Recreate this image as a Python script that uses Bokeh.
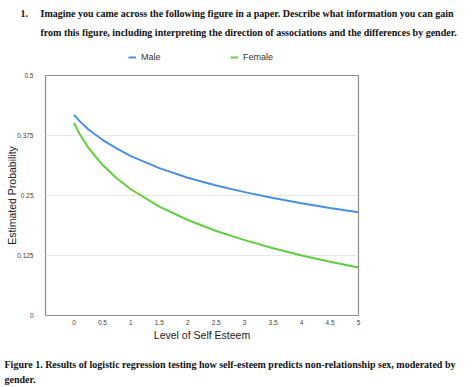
from bokeh.plotting import figure
from bokeh.layouts import column
from bokeh.models import FixedTicker, Legend, LegendItem, Range1d, Title
from bokeh.embed import file_html
from bokeh.resources import INLINE

# ---- data ----
self_esteem = [0, 0.1, 0.25, 0.5, 0.75, 1, 1.5, 2, 2.5, 3, 3.5, 4, 4.5, 5]
male_prob   = [0.418, 0.405, 0.388, 0.366, 0.348, 0.332, 0.307, 0.287, 0.271, 0.257, 0.245, 0.234, 0.224, 0.215]
female_prob = [0.401, 0.378, 0.350, 0.314, 0.286, 0.263, 0.227, 0.199, 0.176, 0.157, 0.140, 0.125, 0.112, 0.100]
x_ticks = [0, 0.5, 1, 1.5, 2, 2.5, 3, 3.5, 4, 4.5, 5]
y_ticks = [0, 0.125, 0.25, 0.375, 0.5]
series_names = ["Male", "Female"]
question_1 = "1.\u00a0\u00a0\u00a0\u00a0\u00a0Imagine you came across the following figure in a paper. Describe what information you can gain"
question_2 = "from this figure, including interpreting the direction of associations and the differences by gender."
caption_1 = "Figure 1. Results of logistic regression testing how self-esteem predicts non-relationship sex, moderated by"
caption_2 = "gender."
x_label = "Level of Self Esteem"
y_label = "Estimated Probability"

W = 474
HEAD_H, CHART_H, FOOT_H = 70, 274, 43
BL, BR = 45, 116
BLUE = "#4a90e2"
GREEN = "#5fcf3e"
SERIF = "Liberation Serif"
SANS = "Liberation Sans"
TXT_SIZE = "10px"


def title(txt, offset, standoff, valign="bottom", line_height=1.2):
    return Title(text=txt, align="left", offset=offset, standoff=standoff,
                 vertical_align=valign, text_font=SERIF, text_font_size=TXT_SIZE,
                 text_font_style="bold", text_color="#111111", text_line_height=line_height)


def text_strip(height, top_border):
    f = figure(width=W, height=height, output_backend="svg", toolbar_location=None,
               x_range=Range1d(-0.5, 5), y_range=Range1d(10, 11),
               x_axis_location=None, y_axis_location=None,
               min_border_left=BL, min_border_right=BR, min_border_top=top_border, min_border_bottom=0)
    f.grid.visible = False
    f.outline_line_color = None
    f.background_fill_color = "white"
    f.border_fill_color = "white"
    return f


# ---- header: question text (titles) + legend in its frame ----
head = text_strip(HEAD_H, 40)
head.add_layout(title(question_2, -5, 6), "above")
head.add_layout(title(question_1, -25, 5), "above")

# legend proxies: same series, hidden (legend draws them regardless)
leg_r1 = head.line(self_esteem, male_prob, line_color=BLUE, line_width=2, visible=False)
leg_r2 = head.line(self_esteem, female_prob, line_color=GREEN, line_width=2, visible=False)
legend = Legend(items=[LegendItem(label=series_names[0], renderers=[leg_r1]),
                       LegendItem(label=series_names[1], renderers=[leg_r2])],
                location=(83, 8), orientation="horizontal")
legend.background_fill_alpha = 0
legend.border_line_color = None
legend.label_text_font = SANS
legend.label_text_font_size = "9px"
legend.label_text_color = "#333333"
legend.glyph_width = 8
legend.glyph_height = 10
legend.label_standoff = 5
legend.spacing = 69
legend.padding = 0
legend.margin = 0
head.add_layout(legend)

# ---- chart ----
p = figure(width=W, height=CHART_H, output_backend="svg", toolbar_location=None,
           x_range=Range1d(-0.5, 5), y_range=Range1d(0, 0.5),
           min_border_left=BL, min_border_right=BR, min_border_top=5, min_border_bottom=29)
p.background_fill_color = "white"
p.border_fill_color = "white"
p.outline_line_color = "#8f8f8f"
p.outline_line_width = 1.2

p.line(self_esteem, male_prob, line_color=BLUE, line_width=2)
p.line(self_esteem, female_prob, line_color=GREEN, line_width=2)

for ax in (p.xaxis[0], p.yaxis[0]):
    ax.axis_line_color = None
    ax.major_tick_line_color = None
    ax.minor_tick_line_color = None
    ax.major_label_text_font = SANS
    ax.major_label_text_font_size = "6.5px"
    ax.major_label_text_color = "#444444"
    ax.axis_label_text_font = SANS
    ax.axis_label_text_font_size = "10.5px"
    ax.axis_label_text_font_style = "normal"
    ax.axis_label_text_color = "#222222"
p.xaxis.ticker = FixedTicker(ticks=x_ticks)
p.yaxis.ticker = FixedTicker(ticks=y_ticks)
p.xaxis.major_label_standoff = -2
p.yaxis.major_label_standoff = 6
p.xaxis.major_label_overrides = {t: ("%g" % t) for t in x_ticks}
p.yaxis.major_label_overrides = {t: ("%g" % t) for t in y_ticks}
p.xaxis.axis_label = x_label
p.yaxis.axis_label = y_label
p.xaxis.axis_label_standoff = 1
p.yaxis.axis_label_standoff = -4

p.xgrid.grid_line_color = None
p.ygrid.grid_line_color = "#e8e8e8"
p.ygrid.grid_line_width = 1

# ---- footer: caption (two lines in one title) ----
foot = text_strip(FOOT_H, 42)
foot.add_layout(title(caption_1 + "\n" + caption_2, -41, 2, line_height=1.45), "above")

layout = column(head, p, foot, spacing=0)
open("out.html", "w").write(file_html(layout, INLINE))
